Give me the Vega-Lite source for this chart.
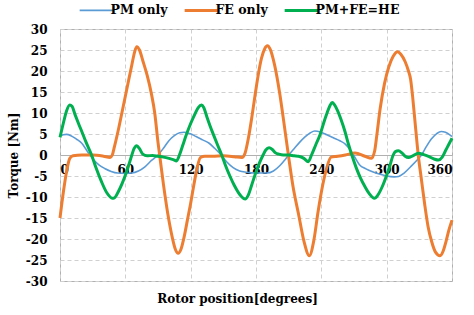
{
  "$schema": "https://vega.github.io/schema/vega-lite/v6.json",
  "width": 392,
  "height": 252,
  "autosize": {"type": "none"},
  "padding": {"left": 60, "top": 29, "right": 22, "bottom": 34},
  "background": "white",
  "config": {
    "font": "DejaVu Serif",
    "view": {"stroke": "#b0b0b0", "strokeWidth": 1},
    "axis": {
      "labelFont": "DejaVu Serif", "labelFontWeight": 700, "labelFontSize": 12, "labelColor": "black",
      "titleFont": "DejaVu Serif", "titleFontWeight": 700, "titleFontSize": 12, "titleColor": "black",
      "ticks": false, "domain": false,
      "gridColor": "#d0d0d0", "gridDash": [4, 3], "gridWidth": 1
    }
  },
  "datasets": {
    "pm": [
      {"d":0,"t":4.5},{"d":3,"t":4.8},{"d":6,"t":4.9},{"d":10,"t":4.6},{"d":15,"t":3.8},{"d":20,"t":2.8},{"d":24,"t":1.3},{"d":27.5,"t":0},{"d":31,"t":-1.2},{"d":36,"t":-2.4},{"d":41,"t":-3.2},{"d":47,"t":-3.9},{"d":53,"t":-4.3},{"d":60,"t":-4.4},{"d":66,"t":-4.3},{"d":72,"t":-3.8},{"d":78,"t":-2.8},{"d":84,"t":-1.3},{"d":90,"t":0},{"d":95,"t":1.6},{"d":100,"t":3.4},{"d":105,"t":4.6},{"d":110,"t":5.3},{"d":114,"t":5.4},{"d":119,"t":5.1},{"d":125,"t":4.4},{"d":131,"t":3.6},{"d":137,"t":2.8},{"d":142,"t":1.6},{"d":148,"t":0},{"d":153,"t":-1.6},{"d":159,"t":-3.0},{"d":165,"t":-3.8},{"d":171,"t":-4.1},{"d":180,"t":-4.3},{"d":190,"t":-4.3},{"d":196,"t":-3.8},{"d":202,"t":-2.5},{"d":206,"t":-1.3},{"d":210,"t":0},{"d":215,"t":1.5},{"d":220,"t":3},{"d":225,"t":4.3},{"d":230,"t":5.3},{"d":234,"t":5.7},{"d":239,"t":5.5},{"d":245,"t":4.8},{"d":251,"t":4.1},{"d":257,"t":3.4},{"d":262,"t":2.6},{"d":266,"t":1.4},{"d":269.5,"t":0},{"d":275,"t":-2.3},{"d":281,"t":-3.3},{"d":287,"t":-4},{"d":294,"t":-4.6},{"d":300,"t":-5},{"d":307,"t":-5.2},{"d":311,"t":-5.1},{"d":316,"t":-4.3},{"d":322,"t":-2.8},{"d":328,"t":-1.2},{"d":332,"t":0},{"d":336,"t":1.8},{"d":341,"t":3.8},{"d":346,"t":5.1},{"d":350,"t":5.6},{"d":354,"t":5.4},{"d":358,"t":4.8},{"d":360,"t":4.4}
    ],
    "fe": [
      {"d":0,"t":-15},{"d":3,"t":-9},{"d":6,"t":-4},{"d":9,"t":-0.8},{"d":12,"t":-0.2},{"d":20,"t":0},{"d":30,"t":0},{"d":40,"t":-0.3},{"d":46,"t":-0.6},{"d":48,"t":0},{"d":50,"t":2},{"d":54,"t":6.5},{"d":58,"t":11.5},{"d":62,"t":16.5},{"d":66,"t":21.5},{"d":68.5,"t":24.5},{"d":70.5,"t":25.8},{"d":73,"t":25},{"d":76,"t":22.5},{"d":80,"t":19},{"d":84,"t":14.5},{"d":87,"t":10},{"d":90,"t":3},{"d":92,"t":-1},{"d":95,"t":-7},{"d":99,"t":-14},{"d":103,"t":-19.5},{"d":106,"t":-22.5},{"d":108.5,"t":-23.4},{"d":111,"t":-22.5},{"d":114,"t":-19.5},{"d":117,"t":-15.5},{"d":120,"t":-11.5},{"d":123,"t":-7},{"d":126,"t":-3},{"d":129,"t":-0.6},{"d":133,"t":-0.3},{"d":140,"t":-0.3},{"d":150,"t":-0.2},{"d":160,"t":-0.4},{"d":167,"t":-0.6},{"d":170,"t":0.5},{"d":173,"t":4},{"d":176,"t":8.7},{"d":179,"t":14},{"d":182,"t":19},{"d":185,"t":23},{"d":188,"t":25.3},{"d":190.5,"t":26},{"d":193,"t":25.2},{"d":197,"t":21.5},{"d":202,"t":14.3},{"d":206,"t":7},{"d":210,"t":-0.5},{"d":214,"t":-7.5},{"d":219,"t":-14},{"d":224,"t":-20.5},{"d":229,"t":-24},{"d":233,"t":-20.5},{"d":237,"t":-13.5},{"d":241,"t":-7.5},{"d":245,"t":-3},{"d":249,"t":-0.5},{"d":255,"t":-0.3},{"d":262,"t":0},{"d":271,"t":0.5},{"d":280,"t":-0.3},{"d":286,"t":-0.8},{"d":289,"t":1},{"d":291,"t":4.8},{"d":294,"t":11},{"d":298,"t":17},{"d":302,"t":21},{"d":306,"t":23.5},{"d":310,"t":24.6},{"d":313,"t":24},{"d":317,"t":22.2},{"d":320,"t":20},{"d":322,"t":18},{"d":324,"t":13.5},{"d":326,"t":8},{"d":329,"t":0},{"d":332,"t":-6},{"d":335,"t":-11.9},{"d":338,"t":-17},{"d":341.3,"t":-20.6},{"d":345,"t":-23.2},{"d":349,"t":-24},{"d":352,"t":-22.8},{"d":354.5,"t":-20.6},{"d":357,"t":-18},{"d":360,"t":-15.5}
    ],
    "he": [
      {"d":0,"t":4.2},{"d":3,"t":7.5},{"d":6,"t":10.5},{"d":9,"t":11.9},{"d":11,"t":11.6},{"d":14,"t":9.5},{"d":17,"t":7.5},{"d":20,"t":5.6},{"d":24,"t":3},{"d":29,"t":0},{"d":33,"t":-3},{"d":38,"t":-6.3},{"d":43,"t":-9},{"d":48,"t":-10.3},{"d":50,"t":-10.2},{"d":54,"t":-8.5},{"d":57,"t":-6.8},{"d":60,"t":-4.8},{"d":63,"t":-2.5},{"d":66,"t":0},{"d":68,"t":1.5},{"d":70.5,"t":2.2},{"d":73,"t":1.5},{"d":76,"t":0.2},{"d":80,"t":-0.2},{"d":85,"t":-0.1},{"d":90,"t":-0.3},{"d":95,"t":-0.5},{"d":100,"t":-0.8},{"d":104,"t":-1.1},{"d":107,"t":-1.4},{"d":110,"t":0.2},{"d":113,"t":2.5},{"d":116,"t":4.8},{"d":120,"t":7.5},{"d":124,"t":9.8},{"d":127,"t":11.3},{"d":130,"t":11.9},{"d":132,"t":11.3},{"d":135,"t":9},{"d":138,"t":6.8},{"d":141,"t":4.8},{"d":145,"t":2.2},{"d":148.5,"t":0},{"d":152,"t":-2.5},{"d":156,"t":-5},{"d":160,"t":-7.2},{"d":164,"t":-9},{"d":167,"t":-10},{"d":170,"t":-10.5},{"d":173,"t":-9.5},{"d":176,"t":-7.2},{"d":179,"t":-4.8},{"d":183,"t":-2},{"d":186.5,"t":0},{"d":189,"t":1.2},{"d":192,"t":1.7},{"d":195,"t":1.3},{"d":198,"t":0.5},{"d":201,"t":0.2},{"d":205,"t":0},{"d":210,"t":0},{"d":215,"t":-0.2},{"d":219,"t":-0.3},{"d":224,"t":-0.8},{"d":228,"t":-1.6},{"d":231,"t":0},{"d":235,"t":2.5},{"d":238.8,"t":4.8},{"d":242,"t":7.5},{"d":245,"t":9.8},{"d":248,"t":11.8},{"d":250,"t":12.5},{"d":252,"t":12},{"d":255,"t":10.5},{"d":258,"t":8.5},{"d":261.7,"t":5.6},{"d":265,"t":2.5},{"d":268,"t":0},{"d":272,"t":-3},{"d":276,"t":-5.5},{"d":280,"t":-7.5},{"d":284,"t":-9.2},{"d":288.7,"t":-10.3},{"d":292,"t":-9.5},{"d":296,"t":-7.5},{"d":300,"t":-4.8},{"d":303,"t":-2.5},{"d":306,"t":0},{"d":308,"t":0.8},{"d":310.7,"t":1.0},{"d":314,"t":0.5},{"d":317,"t":-0.3},{"d":320,"t":-0.6},{"d":324,"t":-0.2},{"d":329,"t":0.4},{"d":334,"t":0.1},{"d":339,"t":-0.4},{"d":344,"t":-1.0},{"d":347.5,"t":-1.2},{"d":351,"t":-0.5},{"d":354,"t":1},{"d":357,"t":2.5},{"d":360,"t":4}
    ]
  },
  "encoding": {
    "x": {
      "field": "d", "type": "quantitative",
      "scale": {"domain": [0, 360], "nice": false},
      "axis": {
        "values": [0, 60, 120, 180, 240, 300, 360],
        "offset": -126, "domain": true, "domainColor": "#b0b0b0", "domainWidth": 1,
        "labelPadding": 9, "grid": true,
        "title": "Rotor position[degrees]", "titleX": 177, "titleY": 143, "titleBaseline": "middle"
      }
    },
    "y": {
      "field": "t", "type": "quantitative",
      "scale": {"domain": [-30, 30], "nice": false},
      "axis": {
        "values": [-30, -25, -20, -15, -10, -5, 0, 5, 10, 15, 20, 25, 30],
        "labelExpr": "datum.value < 0 ? '-' + abs(datum.value) : '' + datum.value",
        "labelPadding": 13, "grid": true,
        "title": "Torque [Nm]", "titlePadding": 5
      }
    }
  },
  "layer": [
    {
      "data": {"name": "pm"},
      "mark": {"type": "line", "interpolate": "monotone", "strokeWidth": 1.6},
      "encoding": {
        "color": {
          "datum": "PM only", "type": "nominal",
          "scale": {"domain": ["PM only", "FE only", "PM+FE=HE"], "range": ["#5B9BD5", "#ED7D31", "#00B050"]},
          "legend": {
            "orient": "none", "legendX": 30, "legendY": -25, "direction": "horizontal", "title": null,
            "symbolType": "stroke", "symbolSize": 1100, "symbolStrokeWidth": 3,
            "labelFont": "DejaVu Serif", "labelFontWeight": 700, "labelFontSize": 12.5, "labelColor": "black",
            "columnPadding": 10, "labelOffset": 8,
            "encode": {"symbols": {"update": {"strokeWidth": {"signal": "datum.value === 'PM only' ? 1.6 : 3"}}}}
          }
        }
      }
    },
    {
      "data": {"name": "fe"},
      "mark": {"type": "line", "interpolate": "monotone", "strokeWidth": 3},
      "encoding": {"color": {"datum": "FE only", "type": "nominal"}}
    },
    {
      "data": {"name": "he"},
      "mark": {"type": "line", "interpolate": "monotone", "strokeWidth": 3},
      "encoding": {"color": {"datum": "PM+FE=HE", "type": "nominal"}}
    }
  ]
}
